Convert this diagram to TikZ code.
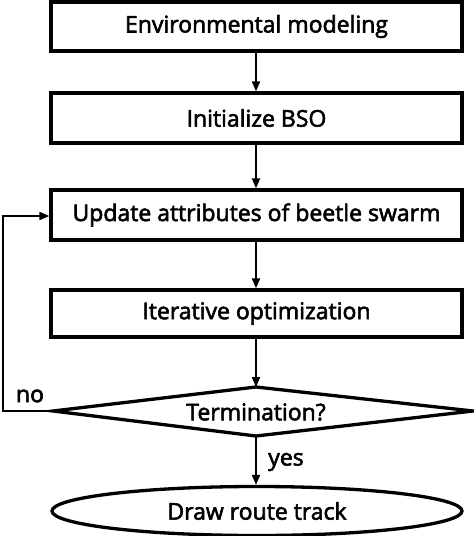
\documentclass[tikz,border=0pt]{standalone}
\usepackage{fontspec}
\setmainfont{Open Sans}
\newfontfamily\lblfont{Open Sans}[FakeBold=2.5]
\usetikzlibrary{arrows.meta,shapes.geometric}
\begin{document}
\begin{tikzpicture}[x=1pt,y=-1pt,
  procbox/.style={draw, line width=3.3pt, minimum width=411pt, inner sep=0pt, font=\lblfont\fontsize{23}{26}\selectfont},
  conn/.style={line width=2pt, -{Triangle[length=10pt,width=8pt]}},
  lbl/.style={font=\lblfont\fontsize{23}{26}\selectfont, inner sep=0pt}]
\useasboundingbox (0,0) rectangle (474,536);
\node[procbox, minimum height=49pt] (env) at (256.5,26.5) {Environmental modeling};
\node[procbox, minimum height=50pt] (init) at (256.5,118) {Initialize BSO};
\node[procbox, minimum height=50pt] (upd) at (256.5,215) {Update attributes of beetle swarm};
\node[procbox, minimum height=47pt] (iter) at (256.5,313.5) {Iterative optimization};
\coordinate (dt) at (256,387);
\coordinate (db) at (256,436);
\coordinate (dl) at (53,411);
\coordinate (dr) at (473,411);
\draw[line width=3.3pt, line join=miter] (dt) -- (dr) -- (db) -- (dl) -- cycle;
\node[lbl] (term) at (256,412) {Termination?};
\node[draw, ellipse, line width=3.3pt, minimum width=410pt, minimum height=49pt, inner sep=0pt, font=\lblfont\fontsize{23}{26}\selectfont] (route) at (257,511) {Draw route track};
\coordinate (lc) at (3,411);
\coordinate (lu) at (3,216);
\draw[conn] (env.south -| dt) -- (init.north -| dt);
\draw[conn] (init.south -| dt) -- (upd.north -| dt);
\draw[conn] (upd.south -| dt) -- (iter.north -| dt);
\draw[conn] (iter.south -| dt) -- (dt);
\draw[conn] (db) -- (route.north -| db);
\draw[conn] (dl) -- (lc) -- (lu) -- (upd.west |- lu);
\node[lbl] (no) at (30,396) {no};
\node[lbl] (yes) at (286,462) {yes};
\end{tikzpicture}
\end{document}
